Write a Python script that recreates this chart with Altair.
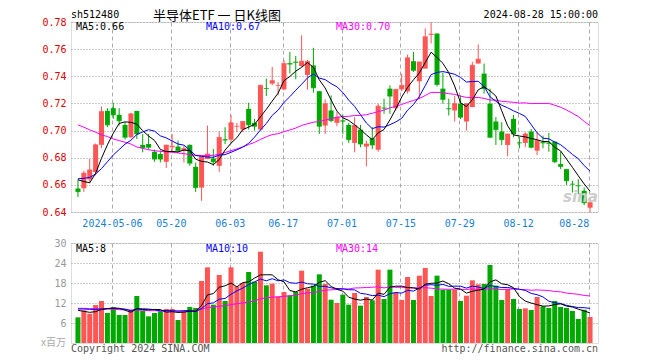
import altair as alt
import pandas as pd

# ---------------- data ----------------
opens = [0.6573, 0.6575, 0.6640, 0.6695, 0.6895, 0.7145, 0.7165, 0.7116, 0.7042, 0.6951,
         0.7145, 0.6894, 0.6901, 0.6844, 0.6827, 0.6770, 0.6877, 0.6882, 0.6850, 0.6894,
         0.6733, 0.6580, 0.6790, 0.6795, 0.6740, 0.6935, 0.6933, 0.7030, 0.7008, 0.7160,
         0.7057, 0.7008, 0.7312, 0.7346, 0.7331, 0.7304, 0.7496, 0.7507, 0.7476, 0.7410,
         0.7480, 0.7290, 0.7038, 0.7148, 0.7057, 0.7074, 0.7042, 0.6909, 0.7007, 0.6882,
         0.6943, 0.6859, 0.7168, 0.7309, 0.7165, 0.7304, 0.7289, 0.7511, 0.7363, 0.7457,
         0.7706, 0.7715, 0.7309, 0.7163, 0.7148, 0.7198, 0.7067, 0.7173, 0.7494, 0.7420,
         0.7198, 0.7067, 0.6993, 0.6894, 0.7086, 0.6911, 0.6909, 0.6993, 0.6852, 0.6914,
         0.6911, 0.6919, 0.6753, 0.6716, 0.6607, 0.6595, 0.6556, 0.6432]
highs = [0.6640, 0.6704, 0.6790, 0.6905, 0.7178, 0.7165, 0.7205, 0.7165, 0.7062, 0.7131,
         0.7145, 0.6975, 0.6975, 0.6860, 0.6852, 0.6895, 0.6975, 0.6926, 0.6887, 0.6900,
         0.6765, 0.6815, 0.7037, 0.6865, 0.6993, 0.7025, 0.7116, 0.7057, 0.7067, 0.7205,
         0.7086, 0.7338, 0.7383, 0.7469, 0.7358, 0.7519, 0.7580, 0.7550, 0.7702, 0.7520,
         0.7610, 0.7290, 0.7230, 0.7259, 0.7136, 0.7116, 0.7057, 0.7099, 0.7042, 0.6926,
         0.7025, 0.7198, 0.7235, 0.7333, 0.7304, 0.7420, 0.7560, 0.7580, 0.7506, 0.7753,
         0.7798, 0.7715, 0.7427, 0.7235, 0.7254, 0.7259, 0.7198, 0.7506, 0.7635, 0.7494,
         0.7309, 0.7099, 0.7062, 0.6975, 0.7116, 0.6951, 0.6988, 0.7012, 0.6988, 0.6963,
         0.6983, 0.6919, 0.6844, 0.6716, 0.6630, 0.6642, 0.6580, 0.6506]
lows = [0.6510, 0.6548, 0.6615, 0.6670, 0.6870, 0.7025, 0.7086, 0.7037, 0.6933, 0.6943,
        0.6938, 0.6840, 0.6860, 0.6770, 0.6765, 0.6725, 0.6840, 0.6840, 0.6765, 0.6740,
        0.6548, 0.6482, 0.6790, 0.6740, 0.6696, 0.6900, 0.6914, 0.6988, 0.6988, 0.7008,
        0.7000, 0.7000, 0.7254, 0.7333, 0.7259, 0.7296, 0.7420, 0.7378, 0.7469, 0.7302,
        0.7280, 0.6975, 0.6975, 0.7062, 0.7032, 0.6975, 0.6909, 0.6840, 0.6877, 0.6736,
        0.6864, 0.6844, 0.7124, 0.7124, 0.7148, 0.7289, 0.7272, 0.7432, 0.7230, 0.7457,
        0.7642, 0.7325, 0.7198, 0.7111, 0.7067, 0.7086, 0.7000, 0.7173, 0.7494, 0.7272,
        0.6943, 0.6894, 0.6894, 0.6810, 0.6951, 0.6869, 0.6877, 0.6869, 0.6820, 0.6869,
        0.6844, 0.6760, 0.6716, 0.6600, 0.6543, 0.6531, 0.6450, 0.6400]
closes = [0.6550, 0.6686, 0.6710, 0.6895, 0.7140, 0.7042, 0.7116, 0.7072, 0.6951, 0.7123,
          0.6975, 0.6874, 0.6877, 0.6790, 0.6790, 0.6893, 0.6885, 0.6852, 0.6867, 0.6760,
          0.6580, 0.6807, 0.6827, 0.6770, 0.6950, 0.6930, 0.7057, 0.7032, 0.7067, 0.7042,
          0.7032, 0.7333, 0.7310, 0.7368, 0.7333, 0.7494, 0.7490, 0.7503, 0.7511, 0.7510,
          0.7315, 0.7032, 0.7198, 0.7074, 0.7099, 0.7069, 0.6933, 0.7037, 0.6901, 0.6901,
          0.6894, 0.7180, 0.7165, 0.7254, 0.7304, 0.7333, 0.7536, 0.7444, 0.7506, 0.7691,
          0.7711, 0.7340, 0.7230, 0.7160, 0.7198, 0.7099, 0.7198, 0.7481, 0.7526, 0.7309,
          0.6951, 0.7007, 0.6933, 0.6975, 0.6975, 0.6909, 0.6975, 0.6877, 0.6926, 0.6909,
          0.6906, 0.6770, 0.6736, 0.6630, 0.6605, 0.6593, 0.6469, 0.6469]
volumes = [7.7, 9.8, 8.8, 11.4, 12.6, 9.0, 10.7, 8.4, 8.4, 9.7,
           14.1, 9.6, 8.0, 9.0, 9.5, 10.2, 10.2, 6.9, 9.5, 10.8,
           10.5, 18.6, 22.7, 11.5, 20.4, 12.6, 22.7, 17.0, 18.0, 21.3,
           18.4, 27.4, 17.3, 17.8, 14.0, 15.3, 14.3, 15.3, 21.7, 16.3,
           17.2, 20.6, 17.7, 13.0, 12.0, 14.5, 11.5, 15.0, 11.2, 13.8,
           12.8, 22.0, 13.2, 22.0, 15.2, 12.9, 19.8, 12.9, 20.2, 22.5,
           14.1, 20.2, 16.0, 16.0, 16.0, 12.6, 14.2, 18.8, 17.6, 17.7,
           23.4, 17.2, 12.9, 16.2, 13.2, 10.2, 10.4, 9.9, 13.8, 11.0,
           10.5, 12.6, 10.8, 10.5, 9.6, 7.2, 10.0, 7.8]

# moving-average values read off the chart where earlier history is not shown
ma5_head = [0.6637, 0.6625, 0.6615, 0.6685]
ma10_head = [0.6645, 0.6648, 0.6655, 0.6680, 0.6720, 0.6770, 0.6820, 0.6860, 0.6900]
ma30_head = [0.7042, 0.7025, 0.7005, 0.6988, 0.6968, 0.6956, 0.6938, 0.6926, 0.6914, 0.6901,
             0.6879, 0.6869, 0.6859, 0.6852, 0.6847, 0.6843, 0.6840, 0.6835, 0.6830, 0.6822,
             0.6818, 0.6816, 0.6815, 0.6818, 0.6825, 0.6838, 0.6852, 0.6865, 0.6880]
vma5_head = [9.8, 9.5, 9.2, 9.4]
vma10_head = [10.2, 10.2, 10.1, 10.1, 10.2, 10.3, 10.4, 10.3, 10.2]
vma30_head = [10.4, 10.4, 10.3, 10.3, 10.2, 10.2, 10.1, 10.0, 10.0, 9.9,
              9.9, 9.8, 9.7, 9.7, 9.6, 9.6, 9.6, 9.6, 9.6, 9.7,
              9.8, 10.2, 10.6, 10.8, 11.0, 11.2, 11.5, 11.8, 12.0]

tick_idx = [6, 16, 26, 35, 45, 55, 65, 75, 87]
tick_labels = ["2024-05-06", "05-20", "06-03", "06-17", "07-01", "07-15", "07-29", "08-12", "08-28"]
price_ticks = [0.64, 0.66, 0.68, 0.70, 0.72, 0.74, 0.76, 0.78]
vol_ticks = [6, 12, 18, 24, 30]

# ---------------- styling ----------------
RED = "#ff5555"
GREEN = "#00a800"
MONO = "DejaVu Sans Mono"
CJK = "Noto Sans CJK SC"
W = 527
HP = 190
HV = 100


def moving(vals, n, head):
    out = []
    for i in range(len(vals)):
        if i < n - 1:
            out.append(head[i])
        else:
            out.append(sum(vals[i - n + 1:i + 1]) / n)
    return out


n = len(closes)
df = pd.DataFrame({
    "idx": list(range(n)),
    "open": opens, "high": highs, "low": lows, "close": closes, "vol": volumes,
})
df["dir"] = ["up" if c >= o else "down" for o, c in zip(opens, closes)]
df["body_lo"] = df[["open", "close"]].min(axis=1)
df["body_hi"] = df[["open", "close"]].max(axis=1)
df["ma5"] = moving(closes, 5, ma5_head)
df["ma10"] = moving(closes, 10, ma10_head)
df["ma30"] = moving(closes, 30, ma30_head)
df["vma5"] = moving(volumes, 5, vma5_head)
df["vma10"] = moving(volumes, 10, vma10_head)
df["vma30"] = moving(volumes, 30, vma30_head)

grid_vals = [i - 0.22 for i in tick_idx]
label_expr = "''"
for i, lab in reversed(list(zip(tick_idx, tick_labels))):
    label_expr = f"round(datum.value) == {i} ? '{lab}' : ({label_expr})"

xscale = alt.Scale(domain=[-0.333, 87.5], nice=False, zero=False)


def x_enc(show_labels):
    return alt.X("idx:Q", scale=xscale, title=None,
                 axis=alt.Axis(values=grid_vals, labelExpr=label_expr, labels=show_labels,
                               grid=True, gridDash=[4, 3], gridColor="#aaaaaa",
                               domain=False, ticks=False, labelColor="#1a7fd0",
                               labelFont=MONO, labelFontSize=10, labelPadding=6,
                               labelFlush=False, labelAngle=0, labelOverlap=False,
                               labelAlign={"condition": {"test": "datum.value > 80", "value": "right"},
                                           "value": "center"}))


pscale = alt.Scale(domain=[0.64, 0.78], nice=False, zero=False)
paxis = alt.Axis(values=price_ticks, format=".2f", grid=True, gridDash=[1, 2], gridColor="#999999",
                 domain=False, ticks=False, labelColor="#e00000", labelFont=MONO, labelFontSize=10,
                 labelPadding=5, minExtent=62, maxExtent=62)


def yp(field):
    return alt.Y(f"{field}:Q", scale=pscale, axis=paxis, title=None)


vscale = alt.Scale(domain=[0, 30], nice=False)
vaxis = alt.Axis(values=vol_ticks, format="d", grid=True, gridDash=[1, 2], gridColor="#999999",
                 domain=False, ticks=False, labelColor="#999999", labelFont=MONO, labelFontSize=10,
                 labelPadding=5, minExtent=62, maxExtent=62)


def yv(field):
    return alt.Y(f"{field}:Q", scale=vscale, axis=vaxis, title=None)


col = alt.Color("dir:N", scale=alt.Scale(domain=["up", "down"], range=[RED, GREEN]), legend=None)

base = alt.Chart(df)
wick = base.mark_rule(strokeWidth=1).encode(x=x_enc(True), y=yp("low"), y2="high:Q", color=col)
body = base.mark_bar(size=5).encode(x=x_enc(True), y=yp("body_lo"), y2="body_hi:Q", color=col)
cross = base.mark_tick(thickness=1, size=5, orient="horizontal").encode(x=x_enc(True), y=yp("close"), color=col)
l5 = base.mark_line(strokeWidth=1, color="#000000").encode(x=x_enc(True), y=yp("ma5"))
l10 = base.mark_line(strokeWidth=1, color="#0000ff").encode(x=x_enc(True), y=yp("ma10"))
l30 = base.mark_line(strokeWidth=1, color="#ff00ff").encode(x=x_enc(True), y=yp("ma30"))


def label(text, x, y, color="#000000", size=10, font=MONO, align="left", **kw):
    return alt.Chart(pd.DataFrame({"t": [text]})).mark_text(
        align=align, baseline="middle", font=font, fontSize=size, color=color, **kw
    ).encode(text="t:N", x=alt.value(x), y=alt.value(y))


price = alt.layer(
    wick, body, cross, l30, l10, l5,
    label("sh512480", 0, -7),
    label("半导体ETF 一 日K线图", 146, -6, size=13, font=CJK, align="center"),
    label("2024-08-28 15:00:00", W, -7, align="right"),
    label("MA5:0.66", 5, 5),
    label("MA10:0.67", 135, 5, color="#0000ff"),
    label("MA30:0.70", 265, 5, color="#ff00ff"),
    label("sina", 492, 175, color="#cccccc", size=15, font="DejaVu Sans", fontStyle="italic", fontWeight="bold"),
).properties(width=W, height=HP)

vbar = base.mark_bar(size=5).encode(x=x_enc(False), y=yv("vol"), color=col)
v5 = base.mark_line(strokeWidth=1, color="#000000").encode(x=x_enc(False), y=yv("vma5"))
v10 = base.mark_line(strokeWidth=1, color="#0000ff").encode(x=x_enc(False), y=yv("vma10"))
v30 = base.mark_line(strokeWidth=1, color="#ff00ff").encode(x=x_enc(False), y=yv("vma30"))

volume = alt.layer(
    vbar, v30, v10, v5,
    label("MA5:8", 5, 6),
    label("MA10:10", 135, 6, color="#0000ff"),
    label("MA30:14", 265, 6, color="#ff00ff"),
    label("x百万", -5, 100, color="#aaaaaa", size=10, font=CJK, align="right"),
    label("Copyright 2024 SINA.COM", 0, 106, color="#555555"),
    label("http://finance.sina.com.cn", W, 106, color="#555555", align="right"),
).properties(width=W, height=HV)

chart = alt.vconcat(price, volume, spacing=8).properties(
    padding={"left": 0, "top": 1, "right": 5, "bottom": 3}
).configure_view(stroke="#999999", strokeWidth=1).configure(background="#ffffff")

chart.save("out.html", embed_options={"renderer": "svg", "actions": False})
